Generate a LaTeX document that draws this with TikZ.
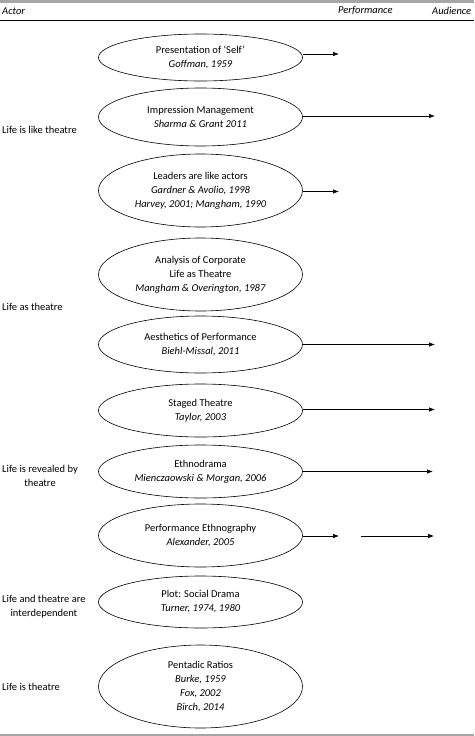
\documentclass[tikz,border=0pt]{standalone}
\usepackage{fontspec}
\setmainfont{Carlito}
\usetikzlibrary{shapes.geometric,arrows.meta}
\tikzset{
  idea/.style={draw, ellipse, line width=0.6pt, inner sep=0pt, minimum width=204pt, align=center, font=\fontsize{10.5}{14}\selectfont},
  lbl/.style={anchor=west, inner sep=0pt, align=left, font=\fontsize{10.5}{14}\selectfont},
  hdr/.style={anchor=west, inner sep=0pt, font=\fontsize{10.5}{13}\selectfont\itshape},
  flow/.style={line width=0.6pt, -{Latex[length=6pt,width=4.5pt]}},
}
\begin{document}
\begin{tikzpicture}[x=1pt,y=-1pt]
\useasboundingbox (0,0) rectangle (474,736);
\fill[gray!70] (0,0) rectangle (474,2.5);
\fill[gray!70] (0,733.5) rectangle (474,736);
\node[hdr] (hA) at (2,11) {Actor};
\node[hdr] (hP) at (338,11) {Performance};
\node[hdr] (hU) at (432,11) {Audience};
\coordinate (hl1) at (0,20.5);
\coordinate (hl2) at (474,20.5);
\draw[line width=0.9pt] (hl1) -- (hl2);

\node[idea, minimum height=47pt] (e1) at (200.5,57.5) {Presentation of `Self'\\\textit{Goffman, 1959}};
\node[idea, minimum height=58pt] (e2) at (200.5,117) {Impression Management\\\textit{Sharma \& Grant 2011}};
\node[idea, minimum height=73pt] (e3) at (200.5,190.5) {Leaders are like actors\\\textit{Gardner \& Avolio, 1998}\\\textit{Harvey, 2001; Mangham, 1990}};
\node[idea, minimum height=73pt] (e4) at (200.5,274.5) {Analysis of Corporate\\Life as Theatre\\\textit{Mangham \& Overington, 1987}};
\node[idea, minimum height=57pt] (e5) at (200.5,344.5) {Aesthetics of Performance\\\textit{Biehl-Missal, 2011}};
\node[idea, minimum height=53pt] (e6) at (200.5,410.5) {Staged Theatre\\\textit{Taylor, 2003}};
\node[idea, minimum height=53pt] (e7) at (200.5,471.5) {Ethnodrama\\\textit{Mienczaowski \& Morgan, 2006}};
\node[idea, minimum height=63pt] (e8) at (200.5,535.5) {Performance Ethnography\\\textit{Alexander, 2005}};
\node[idea, minimum height=52pt] (e9) at (200.5,602) {Plot: Social Drama\\\textit{Turner, 1974, 1980}};
\node[idea, minimum height=83pt] (e10) at (200.5,686.5) {Pentadic Ratios\\\textit{Burke, 1959}\\\textit{Fox, 2002}\\\textit{Birch, 2014}};

\node[lbl] (l1) at (2,130) {Life is like theatre};
\node[lbl] (l2) at (2,307) {Life as theatre};
\node[lbl, align=center] (l3) at (2,476) {Life is revealed by\\theatre};
\node[lbl, align=center] (l4) at (2,607) {Life and theatre are\\interdependent};
\node[lbl] (l5) at (2,687) {Life is theatre};

\coordinate (a1) at (339,54);
\coordinate (a2) at (435,116);
\coordinate (a3) at (339,191.5);
\coordinate (a5) at (435,344.5);
\coordinate (a6) at (435,409.5);
\coordinate (a7) at (433,471.5);
\coordinate (a8) at (339,536);
\coordinate (b8) at (361,536);
\coordinate (c8) at (434,536);

\draw[flow] (e1.east |- a1) -- (a1);
\draw[flow] (e2.east |- a2) -- (a2);
\draw[flow] (e3.east |- a3) -- (a3);
\draw[flow] (e5.east |- a5) -- (a5);
\draw[flow] (e6.east |- a6) -- (a6);
\draw[flow] (e7.east |- a7) -- (a7);
\draw[flow] (e8.east |- a8) -- (a8);
\draw[flow] (b8) -- (c8);
\end{tikzpicture}
\end{document}
